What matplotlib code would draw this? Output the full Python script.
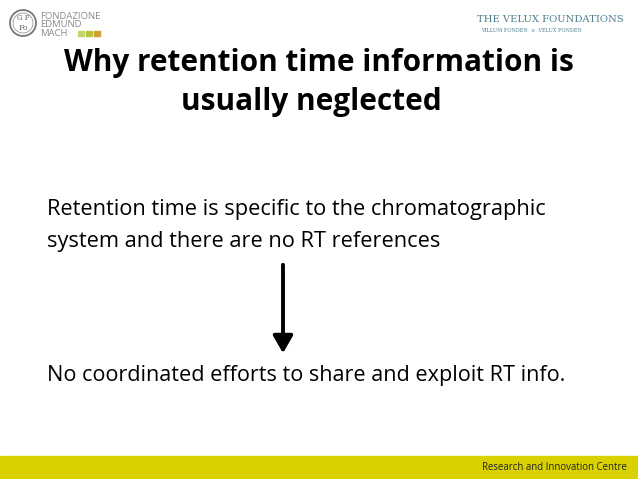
import matplotlib.pyplot as plt
from matplotlib.patches import Rectangle, Circle, FancyArrowPatch

# textos de la diapositiva
title_lines = ['Why retention time information is', 'usually neglected']
body_top = ['Retention time is specific to the chromatographic',
            'system and there are no RT references']
body_bottom = 'No coordinated efforts to share and exploit RT info.'
footer_text = 'Research and Innovation Centre'
left_logo = ['FONDAZIONE', 'EDMUND', 'MACH']
right_logo = ['THE VELUX FOUNDATIONS', 'VILLUM FONDEN  ∞  VELUX FONDEN']
logo_squares = ['#c4d86a', '#b9c23a', '#d0a030']

W, H = 638, 479
fig = plt.figure(figsize=(W / 100, H / 100), dpi=100)
ax = fig.add_axes([0, 0, 1, 1])
ax.set_xlim(0, W)
ax.set_ylim(H, 0)
ax.axis('off')

# logo izquierdo
ax.add_patch(Circle((23, 23), 13, fill=False, edgecolor='#777777', linewidth=1.3))
ax.add_patch(Circle((23, 23), 10, fill=False, edgecolor='#999999', linewidth=0.6))
ax.text(23, 18, 'G F', ha='center', va='center', fontsize=5, color='#666666', family='DejaVu Serif')
ax.text(23, 28, 'Fo', ha='center', va='center', fontsize=5.5, color='#666666', family='DejaVu Serif')
for i, t in enumerate(left_logo):
    ax.text(40, 16 + i * 8.5, t, ha='left', va='center', fontsize=6.8, color='#8a8a8a', family='Open Sans')
for i, c in enumerate(logo_squares):
    ax.add_patch(Rectangle((78 + i * 8, 31), 5.5, 5, color=c))

# logo derecho
ax.text(550, 19, right_logo[0], ha='center', va='center', fontsize=7.2, color='#4f7f8f',
        family='DejaVu Serif')
ax.text(531, 30, right_logo[1], ha='center', va='center', fontsize=3.6, color='#4f7f8f',
        family='DejaVu Serif')

# título
ax.text(319, 63, title_lines[0], ha='center', va='center', fontsize=21.4, fontweight='bold',
        family='Open Sans', color='black')
ax.text(311, 102, title_lines[1], ha='center', va='center', fontsize=21.4, fontweight='bold',
        family='Open Sans', color='black')

# cuerpo
ax.text(47, 210, body_top[0], ha='left', va='center', fontsize=15.7, family='Open Sans')
ax.text(47, 241, body_top[1], ha='left', va='center', fontsize=15.7, family='Open Sans')
ax.text(47, 376, body_bottom, ha='left', va='center', fontsize=15.6, family='Open Sans')

# flecha
ax.add_patch(FancyArrowPatch((283, 262), (283, 356), arrowstyle='-|>,head_length=7,head_width=4',
                             mutation_scale=1.5, linewidth=2.8, color='black'))

# barra inferior
ax.add_patch(Rectangle((0, 456), W, 23, color='#d9d200'))
ax.text(627, 468, footer_text, ha='right', va='center', fontsize=6.9, family='Open Sans', color='#222222')

fig.savefig('out.png', dpi=100)
